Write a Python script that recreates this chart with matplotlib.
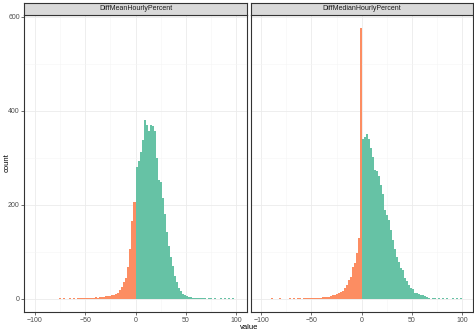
import matplotlib
matplotlib.use("Agg")
import matplotlib.pyplot as plt
import numpy as np

plt.rcParams['font.family'] = ['Liberation Sans', 'DejaVu Sans']

panels = ["DiffMeanHourlyPercent", "DiffMedianHourlyPercent"]
binwidth = 2
# counts for bins going left from 0: [-2,0), [-4,-2), ...
mean_neg = [206, 165, 105, 68, 45, 35, 25, 18, 13, 10, 8, 7, 6, 5, 5, 4, 3, 4, 2, 3,
            2, 2, 1, 2, 1, 2, 1, 1, 1, 0, 1, 0, 1, 0, 0, 1, 0, 1]
# counts for bins going right from 0: [0,2), [2,4), ...
mean_pos = [280, 293, 312, 337, 380, 369, 358, 371, 367, 357, 300, 252, 249, 214, 180,
            143, 113, 88, 70, 49, 35, 23, 16, 11, 8, 6, 4, 3, 2, 2, 1, 2, 1, 1, 1, 0,
            1, 1, 0, 1, 0, 0, 1, 0, 1, 0, 1, 0, 1]
median_neg = [576, 129, 97, 76, 68, 47, 40, 30, 23, 16, 14, 12, 11, 9, 7, 5, 4, 4, 3, 3,
              2, 2, 2, 1, 2, 1, 1, 1, 1, 0, 1, 1, 0, 1, 0, 1, 0, 0, 0, 0, 1, 0, 0, 0, 1]
median_pos = [341, 344, 350, 341, 322, 302, 275, 272, 262, 242, 224, 190, 178, 167, 146,
              125, 107, 90, 79, 65, 62, 45, 38, 30, 23, 20, 13, 12, 11, 9, 7, 5, 3, 1,
              0, 1, 1, 0, 1, 0, 1, 0, 1, 0, 0, 1, 0, 1, 0, 1]
neg_data = [mean_neg, median_neg]
pos_data = [mean_pos, median_pos]

x_ticks = [-100, -50, 0, 50, 100]
y_ticks = [0, 200, 400, 600]

neg_color = "#FC8D62"
pos_color = "#66C2A5"

W, H = 474, 332
fig = plt.figure(figsize=(W / 100, H / 100), dpi=100)

panel_x = [(24.3, 246.7), (250.7, 472.7)]
top_px, bot_px = 14.7, 312.3
strip_top = 2.7

for i, name in enumerate(panels):
    x0, x1 = panel_x[i]
    ax = fig.add_axes([x0 / W, (H - bot_px) / H, (x1 - x0) / W, (bot_px - top_px) / H])
    neg = neg_data[i]
    pos = pos_data[i]
    neg_left = [-(k + 1) * binwidth for k in range(len(neg))]
    pos_left = [k * binwidth for k in range(len(pos))]
    ax.bar(neg_left, neg, width=binwidth, align='edge', color=neg_color, linewidth=0)
    ax.bar(pos_left, pos, width=binwidth, align='edge', color=pos_color, linewidth=0)
    ax.set_xlim(-110.5, 110.5)
    ax.set_ylim(-28.8, 604.8)
    ax.set_xticks(x_ticks)
    ax.set_yticks(y_ticks)
    ax.set_xticks([-75, -25, 25, 75], minor=True)
    ax.set_yticks([100, 300, 500], minor=True)
    ax.grid(True, which='major', color='#EBEBEB', linewidth=0.6)
    ax.grid(True, which='minor', color='#F5F5F5', linewidth=0.4)
    ax.set_axisbelow(True)
    ax.tick_params(which='minor', length=0)
    ax.tick_params(which='major', length=2, width=0.5, color='#333333',
                   labelsize=5, labelcolor='#4D4D4D', pad=1.2)
    if i == 1:
        ax.tick_params(axis='y', labelleft=False, length=0)
    for s in ax.spines.values():
        s.set_color('#333333')
        s.set_linewidth(0.8)
    # strip
    sax = fig.add_axes([x0 / W, (H - top_px) / H, (x1 - x0) / W, (top_px - strip_top) / H])
    sax.set_facecolor('#D9D9D9')
    sax.set_xticks([])
    sax.set_yticks([])
    for s in sax.spines.values():
        s.set_color('#333333')
        s.set_linewidth(0.8)
    sax.text(0.5, 0.5, name, ha='center', va='center', fontsize=5, color='#1A1A1A',
             transform=sax.transAxes)

fig.text(249 / W, 1 - 327.5 / H, "value", ha='center', va='center', fontsize=5.5)
fig.text(7 / W, 1 - 163 / H, "count", ha='center', va='center', fontsize=5.5, rotation=90)

fig.savefig("out.png", dpi=100)
